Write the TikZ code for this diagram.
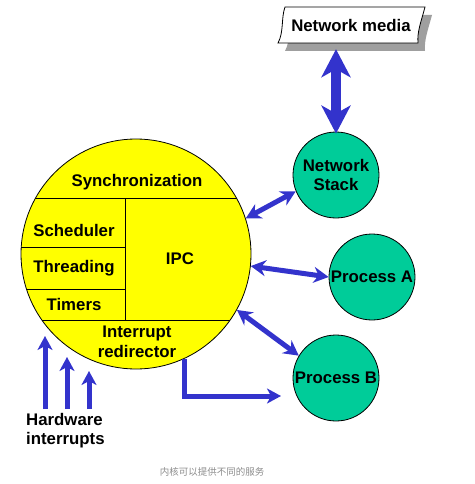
\documentclass[tikz,border=0pt]{standalone}
\usepackage{fontspec}
\setmainfont{Liberation Sans}
\newfontfamily\cjk{Noto Sans CJK SC}
\usetikzlibrary{arrows.meta,calc}
\definecolor{arrblue}{RGB}{51,51,204}
\definecolor{procgreen}{RGB}{0,204,153}
\definecolor{coreyellow}{RGB}{255,255,0}
\tikzset{
  lbl/.style={font=\fontsize{16.8}{19.5}\selectfont\bfseries, inner sep=0pt, align=center},
  proc/.style={circle, draw=black, line width=0.8pt, fill=procgreen, minimum size=86pt, inner sep=0pt, lbl},
  dblarrow/.style={draw=arrblue, line width=5pt, {Stealth[length=15pt,width=16pt,inset=5pt]}-{Stealth[length=15pt,width=16pt,inset=5pt]}},
  onearrow/.style={draw=arrblue, line width=5pt, -{Stealth[length=14pt,width=15pt,inset=4pt]}},
  bigarrow/.style={draw=arrblue, line width=10pt, {Stealth[length=28pt,width=29pt,inset=8pt]}-{Stealth[length=28pt,width=29pt,inset=8pt]}},
  divline/.style={draw=black, line width=0.8pt}
}
\begin{document}
\begin{tikzpicture}[x=1pt,y=-1pt]
\useasboundingbox (0,0) rectangle (474,484);
% core circle
\node[circle, draw=black, line width=0.8pt, fill=coreyellow, minimum size=230pt, inner sep=0pt] (core) at (136,254) {};
\begin{scope}
  \clip (136,254) circle (115pt);
  \draw[divline] (0,198) -- (260,198);
  \draw[divline] (0,320) -- (260,320);
  \draw[divline] (125,198) -- (125,320);
  \draw[divline] (0,247) -- (125,247);
  \draw[divline] (0,289) -- (125,289);
\end{scope}
\node[lbl] (sync) at (137,182) {Synchronization};
\node[lbl] (sched) at (74,230) {Scheduler};
\node[lbl] (thread) at (74,268) {Threading};
\node[lbl] (timers) at (74,304) {Timers};
\node[lbl] (ipc) at (180,259) {IPC};
\node[lbl] (irq) at (137,342) {Interrupt\\redirector};
% process circles
\node[proc] (ns) at (336,175) {Network\\Stack};
\node[proc] (pa) at (372,277) {Process A};
\node[proc] (pb) at (336,378) {Process B};
% network media banner
\fill[gray!75] (292,15) -- (432,15) .. controls (428,30) and (424,40) .. (425,51) -- (285,51) .. controls (291,40) and (288,26) .. (292,15) -- cycle;
\draw[fill=white, line width=0.8pt] (285,7) -- (425,7) .. controls (421,22) and (417,32) .. (418,43) -- (278,43) .. controls (284,32) and (281,18) .. (285,7) -- cycle;
\node[lbl, minimum width=140pt, minimum height=36pt] (media) at (351,25) {Network media};
% arrows
\draw[bigarrow] (ns.north |- media.south) ++(0,6) -- ([yshift=-2pt]ns.north);
\draw[dblarrow] (core.18) -- (ns.202);
\draw[dblarrow] (core.-6) -- (pa.west);
\draw[dblarrow] (core.-29) -- (pb.149);
\coordinate (elbowend) at (281,396);
\draw[onearrow, line join=miter] (core.-65) |- (elbowend);
% hardware interrupts
\coordinate (h1b) at (45,409); \coordinate (h1t) at (45,336);
\coordinate (h2b) at (67,409); \coordinate (h2t) at (67,357);
\coordinate (h3b) at (89,409); \coordinate (h3t) at (89,371);
\draw[onearrow] (h1b) -- (h1t);
\draw[onearrow] (h2b) -- (h2t);
\draw[onearrow] (h3b) -- (h3t);
\node[lbl, align=left, anchor=north west] (hw) at (26,413) {Hardware\\interrupts};
% caption
\node[inner sep=0pt, text=black!45, font=\cjk\fontsize{9.5}{11}\selectfont] (cap) at (212,472) {内核可以提供不同的服务};
\end{tikzpicture}
\end{document}
